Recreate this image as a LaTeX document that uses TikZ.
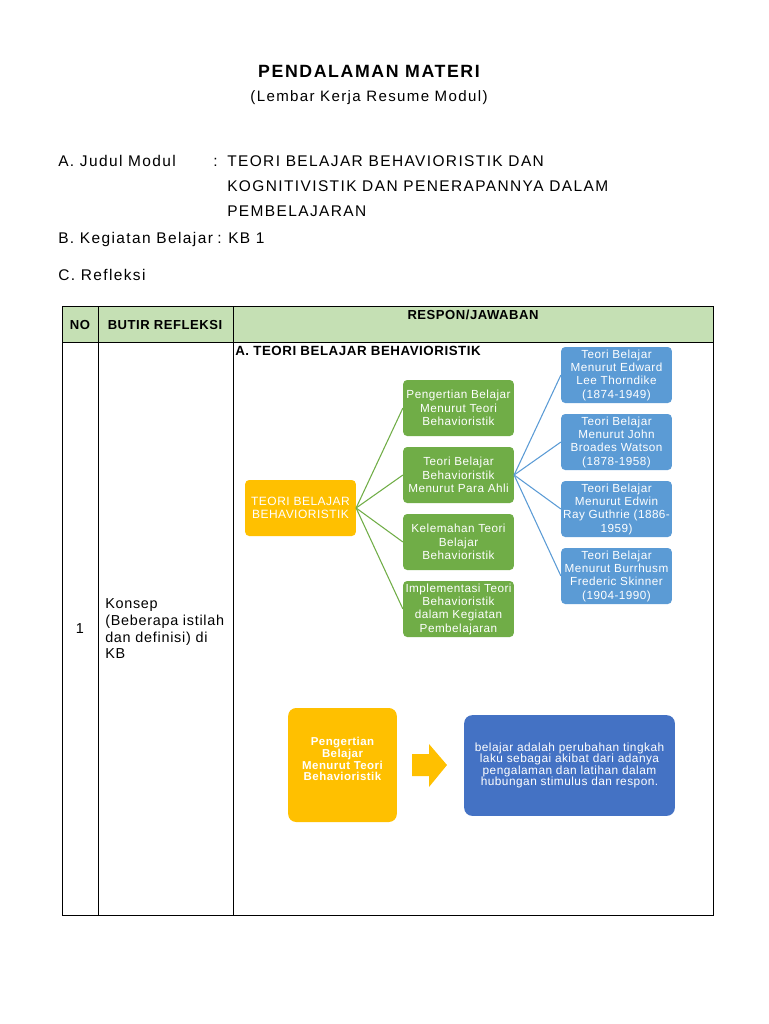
\documentclass[tikz,border=0pt]{standalone}
\usepackage{fontspec}
\setmainfont{Liberation Sans}
\usetikzlibrary{positioning}
\definecolor{hdgreen}{RGB}{197,224,180}
\definecolor{kborange}{RGB}{255,192,0}
\definecolor{kbgreen}{RGB}{112,173,71}
\definecolor{kbblue}{RGB}{91,155,213}
\definecolor{kbdark}{RGB}{68,114,196}
\newfontfamily\spacedfont[LetterSpace=9]{Liberation Sans}
\newfontfamily\rowfont[LetterSpace=5]{Liberation Sans}
\newfontfamily\boxfont[LetterSpace=4]{Liberation Sans}

\begin{document}
\begin{tikzpicture}[
    x=0.75pt,
    y=-0.75pt,
    every node/.style={inner sep=0pt},
    bodytext/.style={anchor=base west, font=\spacedfont\fontsize{11.6}{13}\selectfont},
    headtext/.style={font=\boxfont\bfseries\fontsize{9.8}{11}\selectfont},
    ahlibox/.style={
        rounded corners=3pt,
        fill=kbblue,
        text=white,
        minimum width=83pt,
        minimum height=42pt,
        align=center,
        font=\boxfont\fontsize{8.8}{10}\selectfont
    },
    subbox/.style={ahlibox, fill=kbgreen},
    greenline/.style={kbgreen, line width=0.8pt},
    blueline/.style={kbblue, line width=0.8pt}
]
\useasboundingbox (0,0) rectangle (768,1024);

% Title
\node[font=\spacedfont\bfseries\fontsize{13.3}{15}\selectfont, anchor=base] (title) at (369,78) {PENDALAMAN MATERI};
\node[font=\spacedfont\fontsize{11.3}{13}\selectfont, anchor=base] (subtitle) at (369,101) {(Lembar Kerja Resume Modul)};

% Identity lines
\node[bodytext] (judul) at (58,166) {A. Judul Modul};
\node[bodytext] (judulcol) at (213,166) {:};
\node[bodytext] (judul1) at (227,166) {TEORI BELAJAR BEHAVIORISTIK DAN};
\node[bodytext] (judul2) at (227,191) {KOGNITIVISTIK DAN PENERAPANNYA DALAM};
\node[bodytext] (judul3) at (227,216) {PEMBELAJARAN};
\node[bodytext] (kegiatan) at (58,243) {B. Kegiatan Belajar};
\node[bodytext] (kegcol) at (217,243) {:};
\node[bodytext] (kb) at (228,243) {KB 1};
\node[bodytext] (refleksi) at (58,280) {C. Refleksi};

% Table
\fill[hdgreen] (62,306) rectangle (713,342);
\draw[line width=0.7pt] (62,306) rectangle (713,915);
\draw[line width=0.7pt] (62,342) -- (713,342);
\draw[line width=0.7pt] (98,306) -- (98,915);
\draw[line width=0.7pt] (233,306) -- (233,915);

\node[headtext] (no) at (80,325) {NO};
\node[headtext] (butir) at (165,325) {BUTIR REFLEKSI};
\node[headtext] (respon) at (473,315) {RESPON/JAWABAN};

\node[font=\rowfont\fontsize{10.8}{12.5}\selectfont] (nomor) at (80,629) {1};
\node[
    anchor=west,
    align=left,
    font=\rowfont\fontsize{10.8}{12.5}\selectfont
] (konsep) at (105,629)
{Konsep\\(Beberapa istilah\\dan definisi) di\\KB};

% Mind map
\node[anchor=west, headtext, font=\boxfont\bfseries\fontsize{10}{11}\selectfont] (bagian) at (235,351) {A. TEORI BELAJAR BEHAVIORISTIK};

\node[
    ahlibox,
    fill=kborange,
    font=\boxfont\fontsize{9}{10}\selectfont
] (teori) at (300.5,508)
{TEORI BELAJAR\\BEHAVIORISTIK};

\node[subbox] (pengertian) at (458.5,408) {Pengertian Belajar\\Menurut Teori\\Behavioristik};
\node[subbox] (paraahli) at (458.5,475) {Teori Belajar\\Behavioristik\\Menurut Para Ahli};
\node[subbox] (kelemahan) at (458.5,542) {Kelemahan Teori\\Belajar\\Behavioristik};
\node[subbox] (implementasi) at (458.5,609) {Implementasi Teori\\Behavioristik\\dalam Kegiatan\\Pembelajaran};

\node[ahlibox] (thorndike) at (616.5,375) {Teori Belajar\\Menurut Edward\\Lee Thorndike\\(1874-1949)};
\node[ahlibox] (watson) at (616.5,442) {Teori Belajar\\Menurut John\\Broades Watson\\(1878-1958)};
\node[ahlibox] (guthrie) at (616.5,509) {Teori Belajar\\Menurut Edwin\\Ray Guthrie (1886-\\1959)};
\node[ahlibox] (skinner) at (616.5,576) {Teori Belajar\\Menurut Burrhusm\\Frederic Skinner\\(1904-1990)};

% Branches
\foreach \sub in {pengertian,paraahli,kelemahan,implementasi}
    \draw[greenline] (teori.east) -- (\sub.west);
\foreach \ahli in {thorndike,watson,guthrie,skinner}
    \draw[blueline] (paraahli.east) -- (\ahli.west);

% Definition
\node[
    rounded corners=6pt,
    fill=kborange,
    minimum width=81.5pt,
    minimum height=85.5pt
] (pengbox) at (342.5,765) {};
\node[
    text=white,
    align=center,
    font=\boxfont\bfseries\fontsize{8.6}{8}\selectfont
] (pengtext) at (342.5,759)
{Pengertian\\Belajar\\Menurut Teori\\Behavioristik};

\node[
    rounded corners=6pt,
    fill=kbdark,
    text=white,
    minimum width=158pt,
    minimum height=75.5pt,
    align=center,
    font=\boxfont\fontsize{8.9}{8.5}\selectfont
] (definisi) at (569.5,765.5)
{belajar adalah perubahan tingkah\\laku sebagai akibat dari adanya\\pengalaman dan latihan dalam\\hubungan stimulus dan respon.};

\fill[kborange] (412,754) -- (429,754) -- (429,744) -- (447,765) -- (429,787)
    -- (429,776) -- (412,776) -- cycle;
\end{tikzpicture}
\end{document}
